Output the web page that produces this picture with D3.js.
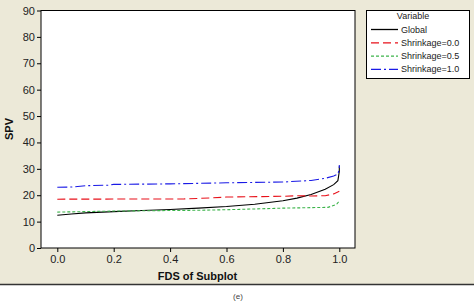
<!DOCTYPE html>
<html>
<head>
<meta charset="utf-8">
<script src="https://cdn.jsdelivr.net/npm/d3@7"></script>
<style>
  body { margin: 0; background: #fff; }
  svg text { font-family: "Liberation Sans", Arial, sans-serif; }
</style>
</head>
<body>
<div id="chart"></div>
<script>
'use strict';

var xTicks = [0, 0.2, 0.4, 0.6, 0.8, 1.0];
var yTicks = [0, 10, 20, 30, 40, 50, 60, 70, 80, 90];

var globalX = [0, 0.05, 0.1, 0.2, 0.3, 0.4, 0.5, 0.6, 0.7, 0.8, 0.85, 0.9, 0.95, 0.98, 0.995, 1.0, 1.0];
var globalY = [12.4, 12.9, 13.3, 13.8, 14.2, 14.6, 15.1, 15.7, 16.6, 17.9, 18.9, 20.3, 22.3, 24.0, 25.5, 29.0, 31.0];

var shrink00X = [0, 0.45, 0.5, 0.55, 0.6, 0.8, 0.85, 0.9, 0.95, 0.98, 1.0];
var shrink00Y = [18.5, 18.6, 18.8, 19.0, 19.3, 19.6, 19.8, 19.7, 19.8, 20.5, 21.5];

var shrink05X = [0, 0.1, 0.2, 0.3, 0.4, 0.5, 0.6, 0.7, 0.8, 0.9, 0.96, 0.99, 1.0];
var shrink05Y = [13.6, 13.8, 14.0, 14.1, 14.2, 14.3, 14.5, 14.8, 15.1, 15.3, 15.4, 16.5, 17.8];

var shrink10X = [0, 0.05, 0.1, 0.18, 0.2, 0.4, 0.6, 0.8, 0.9, 0.95, 0.98, 0.995, 1.0, 1.0];
var shrink10Y = [23.0, 23.1, 23.6, 23.8, 24.1, 24.3, 24.7, 25.0, 25.6, 26.4, 27.3, 28.0, 30.0, 31.5];

var seriesNames = ['Global', 'Shrinkage=0.0', 'Shrinkage=0.5', 'Shrinkage=1.0'];
var seriesColors = ['#000000', '#e8111a', '#3cb44b', '#1a1ae6'];
var seriesDash = ['none', '8,4', '3,2', '10,3,2,3'];

var width = 474,
    height = 305;

var svg = d3.select('#chart').append('svg')
    .attr('width', width)
    .attr('height', height);

// beige Minitab frame
svg.append('rect')
    .attr('x', 0).attr('y', 0)
    .attr('width', width).attr('height', 284)
    .attr('fill', '#ece9d8');
svg.append('line')
    .attr('x1', 0).attr('x2', width)
    .attr('y1', 284.5).attr('y2', 284.5)
    .attr('stroke', '#333').attr('stroke-width', 1.5);

var plot = { left: 41, right: 355, top: 10.5, bottom: 248 };

svg.append('rect')
    .attr('x', plot.left).attr('y', plot.top)
    .attr('width', plot.right - plot.left)
    .attr('height', plot.bottom - plot.top)
    .attr('fill', '#fff')
    .attr('stroke', '#000')
    .attr('stroke-width', 1);

var x = d3.scaleLinear().domain([0, 1]).range([57.3, 339.3]);
var y = d3.scaleLinear().domain([0, 90]).range([plot.bottom, plot.top]);

var xAxis = svg.append('g')
    .attr('transform', 'translate(0,' + plot.bottom + ')')
    .call(d3.axisBottom(x).tickValues(xTicks).tickFormat(d3.format('.1f')).tickSize(4).tickPadding(3));

var yAxis = svg.append('g')
    .attr('transform', 'translate(' + plot.left + ',0)')
    .call(d3.axisLeft(y).tickValues(yTicks).tickSize(4).tickPadding(2));

[xAxis, yAxis].forEach(function(a) {
    a.select('.domain').remove();
    a.selectAll('line').attr('stroke', '#000');
    a.selectAll('text')
        .attr('fill', '#222')
        .style('font-size', '11px')
        .style('font-family', '"Liberation Sans", Arial, sans-serif');
});

svg.append('text')
    .attr('x', 197.5).attr('y', 280)
    .attr('text-anchor', 'middle')
    .style('font-size', '11px').style('font-weight', 'bold')
    .attr('fill', '#111')
    .text('FDS of Subplot');

svg.append('text')
    .attr('transform', 'translate(13,129) rotate(-90)')
    .attr('text-anchor', 'middle')
    .style('font-size', '11px').style('font-weight', 'bold')
    .attr('fill', '#111')
    .text('SPV');

svg.append('text')
    .attr('x', 238).attr('y', 299)
    .attr('text-anchor', 'middle')
    .style('font-size', '8px')
    .attr('fill', '#444')
    .text('(e)');

var series = [
    d3.zip(globalX, globalY),
    d3.zip(shrink00X, shrink00Y),
    d3.zip(shrink05X, shrink05Y),
    d3.zip(shrink10X, shrink10Y)
];

var line = d3.line()
    .x(function(d) { return x(d[0]); })
    .y(function(d) { return y(d[1]); });

svg.selectAll('path.series')
    .data(series)
    .enter()
    .append('path')
    .attr('class', 'series')
    .attr('d', line)
    .attr('fill', 'none')
    .attr('stroke', function(d, i) { return seriesColors[i]; })
    .attr('stroke-dasharray', function(d, i) { return seriesDash[i]; })
    .attr('stroke-width', 1.1);

// legend
var legend = svg.append('g');
legend.append('rect')
    .attr('x', 366.5).attr('y', 10.5)
    .attr('width', 103).attr('height', 68)
    .attr('fill', '#fff')
    .attr('stroke', '#000');

legend.append('text')
    .attr('x', 413).attr('y', 19)
    .attr('text-anchor', 'middle')
    .style('font-size', '9px')
    .attr('fill', '#222')
    .text('Variable');

var items = legend.selectAll('g.item')
    .data(seriesNames)
    .enter()
    .append('g')
    .attr('class', 'item')
    .attr('transform', function(d, i) { return 'translate(0,' + (29.5 + i * 13.3) + ')'; });

items.append('line')
    .attr('x1', 371).attr('x2', 398)
    .attr('y1', 0).attr('y2', 0)
    .attr('stroke', function(d, i) { return seriesColors[i]; })
    .attr('stroke-dasharray', function(d, i) { return seriesDash[i]; })
    .attr('stroke-width', 1.3);

items.append('text')
    .attr('x', 401).attr('y', 3)
    .style('font-size', '9px')
    .attr('fill', '#222')
    .text(function(d) { return d; });
</script>
</body>
</html>
